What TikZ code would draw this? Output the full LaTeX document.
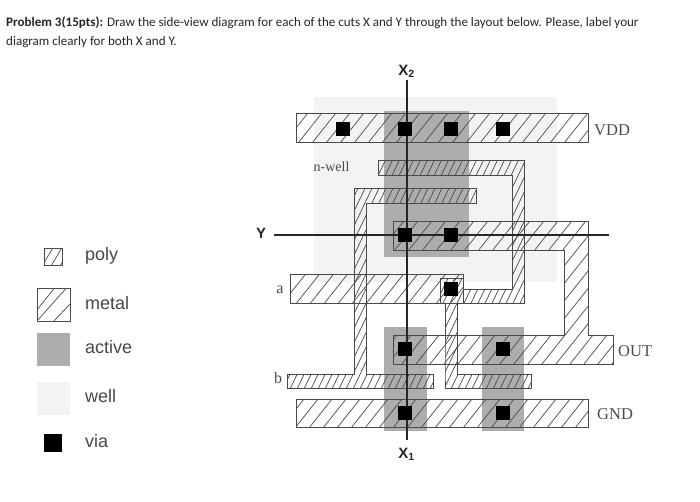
\documentclass[tikz,border=0pt]{standalone}
\usepackage{fontspec}
\setmainfont{Liberation Sans}
\newfontfamily\headfont{Carlito}
\newfontfamily\serifl{Liberation Serif}
\definecolor{wellc}{HTML}{F3F3F3}
\definecolor{activec}{HTML}{ADADAD}
\definecolor{linec}{HTML}{4A4A4A}
\definecolor{legtext}{HTML}{484848}
\tikzset{
  wellbox/.style={fill=wellc,draw=none},
  activebox/.style={fill=activec,draw=none},
  via/.style={fill=black,draw=none,minimum size=13.5pt,inner sep=0pt,outer sep=0pt,rectangle},
  legvia/.style={fill=black,draw=none,minimum size=18pt,inner sep=0pt,outer sep=0pt,rectangle},
  hatchline/.style={draw=linec,line width=0.7pt},
  outline/.style={draw=linec,line width=1pt},
  cutline/.style={draw=black!85,line width=1.4pt},
  lay/.style={font=\serifl\fontsize{16.5}{17}\selectfont,text=black!70,inner sep=0pt},
  cutlab/.style={font=\bfseries\fontsize{15}{15}\selectfont,text=black!85,inner sep=0pt},
  leglab/.style={font=\fontsize{18}{18}\selectfont,text=legtext,inner sep=0pt,anchor=west},
  head/.style={font=\headfont\fontsize{13.05}{15}\selectfont,text=black!85,inner sep=0pt,anchor=base west}
}
% #1 closed path coordinates, #2 spacing, #3 horizontal run of a line over the picture height
\newcommand{\hatched}[3]{%
  \begin{scope}
    \clip #1 -- cycle;
    \foreach \s in {-450,-\the\numexpr450-#2\relax,...,700}
      \draw[hatchline] (\s,502) -- (\s+#3,0);
  \end{scope}
  \draw[outline] #1 -- cycle;
}
\begin{document}
\begin{tikzpicture}[x=1pt,y=-1pt]
\useasboundingbox (0,0) rectangle (700,502);
\fill[white] (0,0) rectangle (700,502);
% heading
\node[head] (h1) at (6,27) {\textbf{Problem 3(15pts):} Draw the side-view diagram for each of the cuts X and Y through the layout below. Please, label your};
\node[head] (h2) at (6,45.5) {diagram clearly for both X and Y.};
% well and active
\fill[wellbox] (314,97) rectangle (557,282);
\fill[activebox] (384,111) rectangle (469,257);
\fill[activebox] (384,327) rectangle (427,431);
\fill[activebox] (482,327) rectangle (524,431);
% poly
\hatched{(378,161) -- (524,161) -- (524,303) -- (463,303) -- (463,289) -- (512,289) -- (512,176) -- (378,176)}{7}{240}
\hatched{(354,189) -- (476,189) -- (476,204) -- (366,204) -- (366,374) -- (433,374) -- (433,388) -- (287,388) -- (287,374) -- (354,374)}{7}{240}
\hatched{(445,303) -- (457,303) -- (457,374) -- (531,374) -- (531,388) -- (445,388) -- (445,374)}{7}{240}
\hatched{(440,278) -- (463,278) -- (463,303) -- (440,303)}{7}{240}
% metal
\hatched{(296,114) -- (588,114) -- (588,143) -- (296,143)}{14}{400}
\hatched{(393,222) -- (588,222) -- (588,335) -- (613,335) -- (613,364) -- (393,364) -- (393,335) -- (564,335) -- (564,251) -- (393,251)}{14}{400}
\hatched{(290,274) -- (463,274) -- (463,303) -- (290,303)}{14}{400}
\hatched{(296,399) -- (588,399) -- (588,427) -- (296,427)}{14}{400}
% cut lines
\coordinate (xa) at (407,80);
\coordinate (xb) at (407,440);
\coordinate (ya) at (274,235);
\coordinate (yb) at (609,235);
\draw[cutline] (xa) -- (xb);
\draw[cutline] (ya) -- (yb);
% vias
\node[via] (v1) at (343,129) {};
\node[via] (v2) at (405,129) {};
\node[via] (v3) at (451,129) {};
\node[via] (v4) at (503,129) {};
\node[via] (v5) at (405,235) {};
\node[via] (v6) at (451,235) {};
\node[via] (v7) at (451,289) {};
\node[via] (v8) at (405,349) {};
\node[via] (v9) at (503,349) {};
\node[via] (v10) at (405,413) {};
\node[via] (v11) at (503,413) {};
% labels
\node[cutlab] (x2) at (406.5,71.5) {X\textsubscript{2}};
\node[cutlab] (x1) at (406.5,454) {X\textsubscript{1}};
\node[cutlab] (y) at (261,233.5) {Y};
\node[lay,anchor=west] (vdd) at (594,130) {VDD};
\node[lay,anchor=west] (out) at (618,351) {OUT};
\node[lay,anchor=west] (gnd) at (597,414) {GND};
\node[lay,font=\serifl\fontsize{14}{14}\selectfont] (nw) at (331.5,167) {n-well};
\node[lay,font=\serifl\fontsize{16}{16}\selectfont] (a) at (280,290) {a};
\node[lay,font=\serifl\fontsize{16}{16}\selectfont] (b) at (278,378) {b};
% legend
\hatched{(44.5,248.5) -- (62,248.5) -- (62,265) -- (44.5,265)}{9}{300}
\begin{scope}
\clip (37,288.5) rectangle (70,321);
\draw[hatchline] (37,310) -- (54,288.5);
\draw[hatchline] (37,321) -- (66,288.5);
\draw[hatchline] (54,321) -- (70,304);
\end{scope}
\draw[outline] (37,288.5) rectangle (70,321);
\fill[activebox] (37,333) rectangle (70,366);
\fill[wellbox] (37,382) rectangle (70,415);
\node[legvia] (lv) at (53,443) {};
\node[leglab] (l1) at (85,256) {poly};
\node[leglab] (l2) at (85,303) {metal};
\node[leglab] (l3) at (85,347.5) {active};
\node[leglab] (l4) at (85,396) {well};
\node[leglab] (l5) at (85,441) {via};
\end{tikzpicture}
\end{document}
